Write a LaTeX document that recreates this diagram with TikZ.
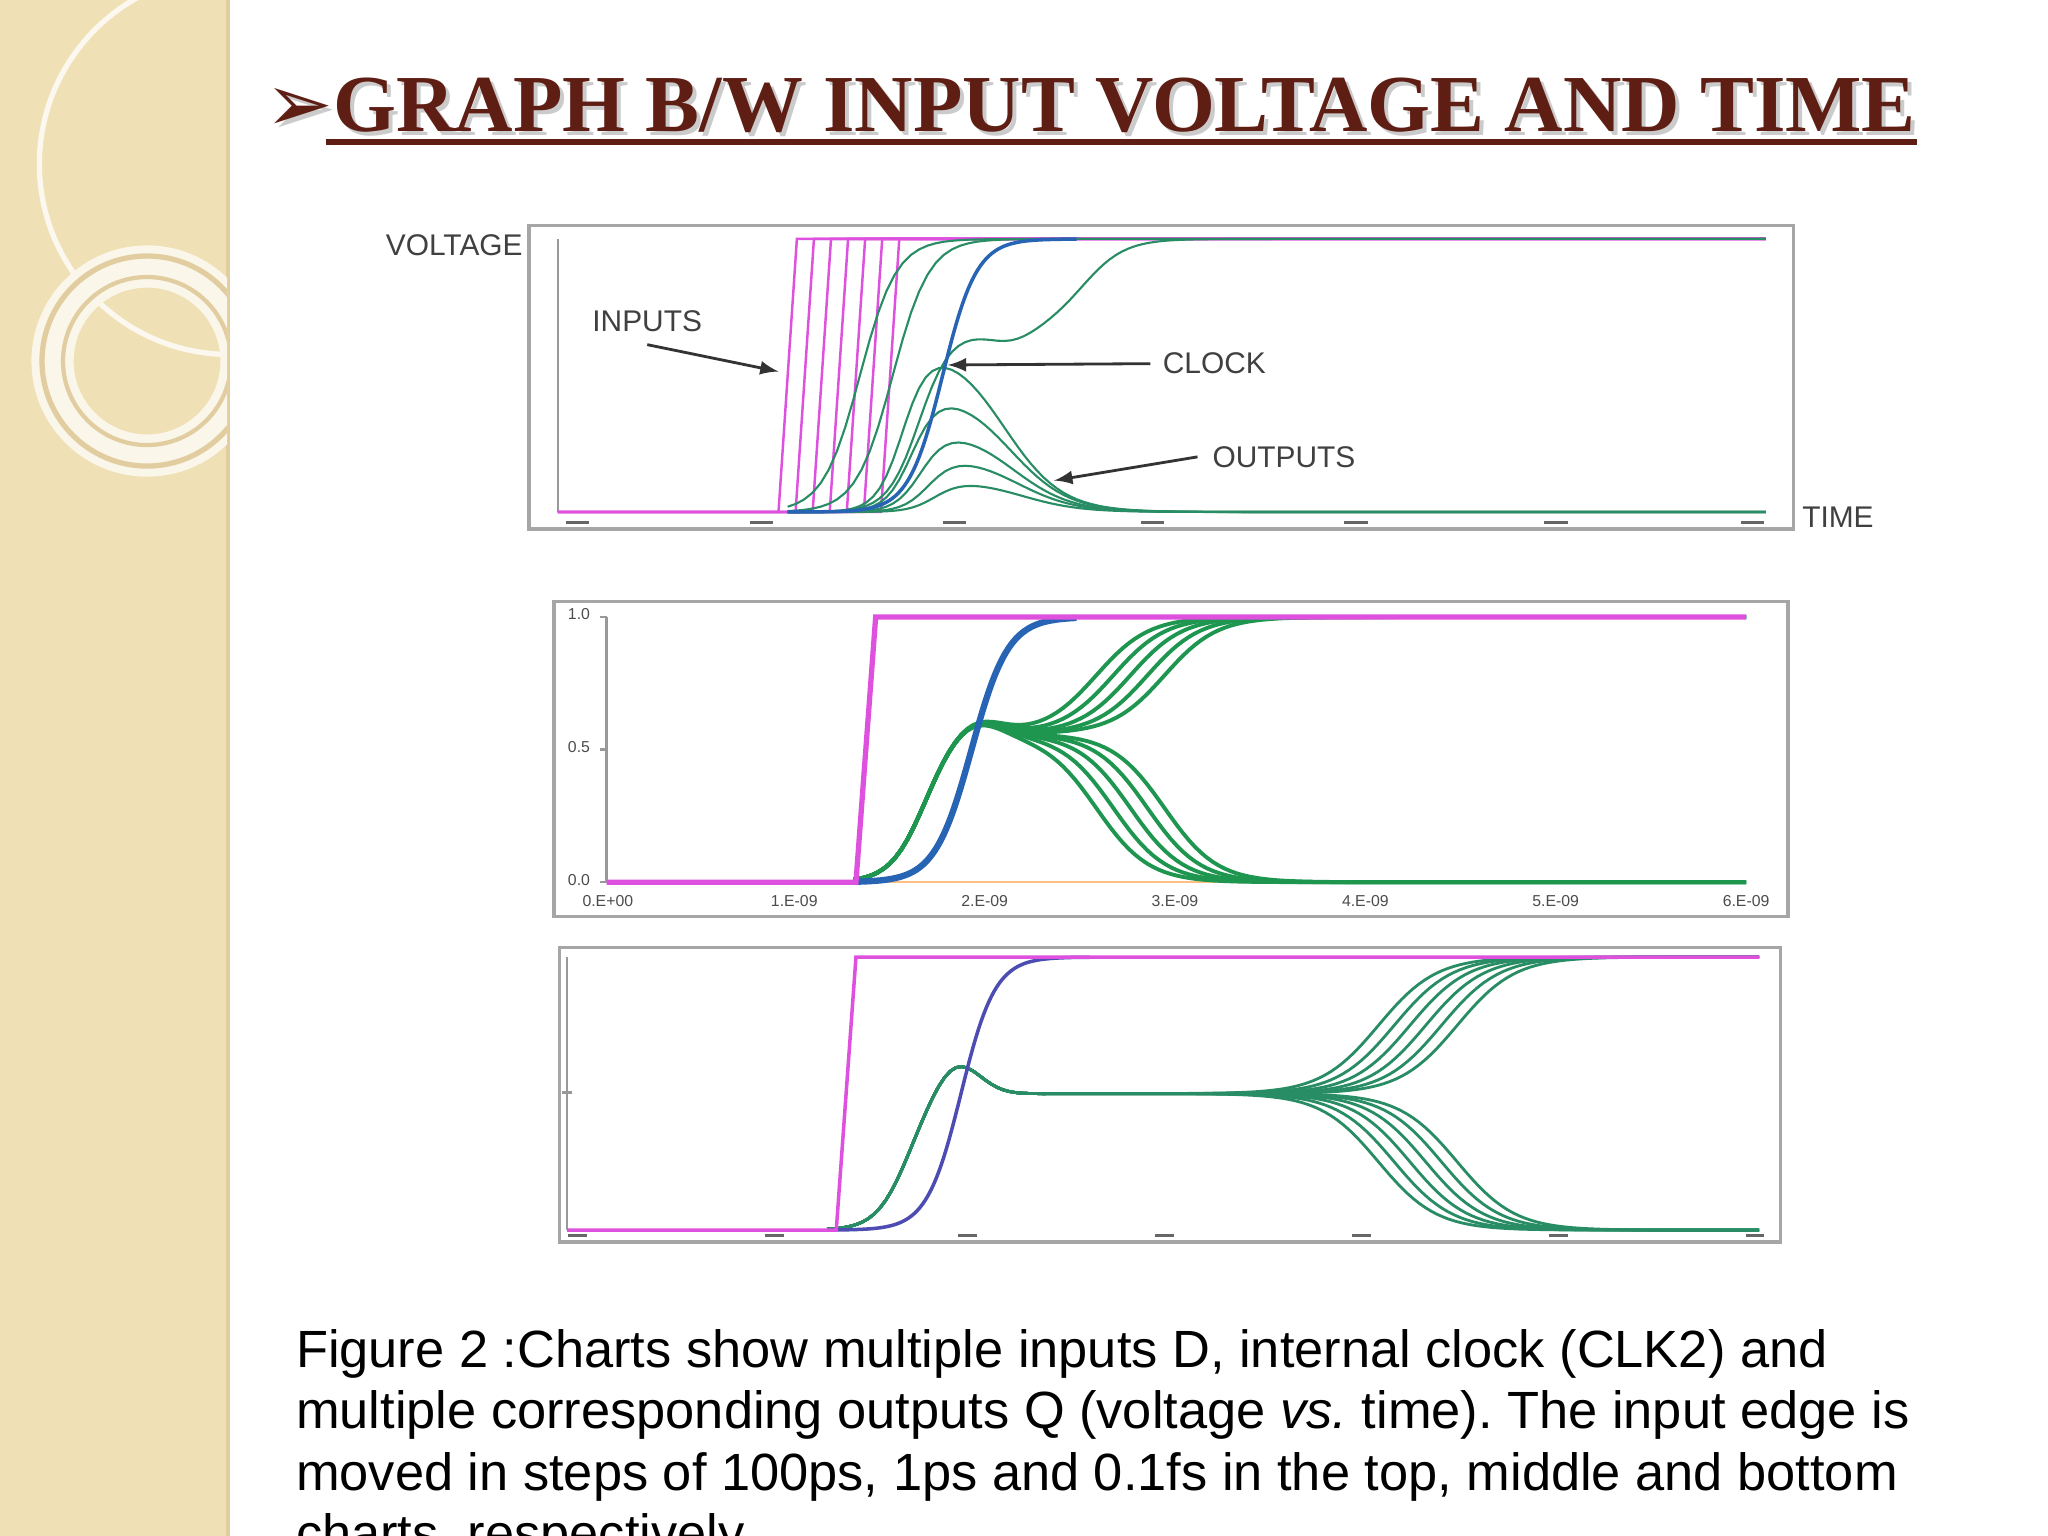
\documentclass[tikz,border=0pt]{standalone}
\usepackage{fontspec}
\setmainfont{Liberation Serif}
\setsansfont{Liberation Sans}
\newfontfamily\dvs{DejaVu Sans}
\definecolor{panel}{RGB}{240,224,182}
\definecolor{panelD}{RGB}{225,205,160}
\definecolor{mag}{RGB}{222,80,222}
\definecolor{gr}{RGB}{30,150,80}
\definecolor{grT}{RGB}{40,140,100}
\definecolor{bl}{RGB}{40,100,180}
\definecolor{tit}{RGB}{95,30,20}
\begin{document}
\frenchspacing
\begin{tikzpicture}[x=0.013128cm,y=-0.013128cm,
  declare function={sg(\t)=1/(1+exp(-max(-9,min(9,\t))));
                    gs(\t)=exp(-min(20,\t*\t));},
  frame/.style={draw=gray!70,line width=0.9pt},
  ax/.style={draw=gray!80,line width=0.7pt},
  inp/.style={draw=mag,line width=0.7pt},
  inpb/.style={draw=mag,line width=1.5pt},
  clk/.style={draw=bl,line width=1pt},
  clkb/.style={draw=bl,line width=1.8pt},
  outp/.style={draw=grT,line width=0.6pt},
  outb/.style={draw=gr,line width=1.1pt},
  lab/.style={font=\sffamily\fontsize{8.5}{8.5}\selectfont,text=black!75},
  tk/.style={font=\sffamily\fontsize{4.5}{4.5}\selectfont,text=black!70},
  arr/.style={draw=black!80,line width=0.8pt,-latex}]
\useasboundingbox (0,0) rectangle (1560,1170);
\clip (0,0) rectangle (1560,1170);
\fill[white] (0,0) rectangle (1560,1170);
% left panel
\fill[panel] (0,0) rectangle (173,1170);
\fill[panelD] (172,0) rectangle (175,1170);
\begin{scope}
\clip (0,0) rectangle (173,1170);
\draw[white,line width=1.5pt,opacity=0.8] (175,125) circle (145);
\draw[white!70!panel,line width=12pt] (112,275) circle (72);
\draw[panelD,line width=1.5pt] (112,275) circle (80);
\draw[panelD,line width=1.2pt] (112,275) circle (64);
\fill[white,opacity=0.3] (0,0) -- (140,0) arc (0:-90:140) -- cycle;
\end{scope}
% title
\node[anchor=west,font=\bfseries\fontsize{23}{23}\selectfont,text=black!40,opacity=0.5,inner sep=0pt] at (205,83) {\dvs ➢\rmfamily GRAPH B/W INPUT VOLTAGE AND TIME};
\node (title) [anchor=west,font=\bfseries\fontsize{23}{23}\selectfont,text=tit,inner sep=0pt] at (202,80) {\dvs ➢\rmfamily GRAPH B/W INPUT VOLTAGE AND TIME};
\draw[tit,line width=1.8pt] (248,108) -- (title.east |- 0,108);
% ===== top chart =====
\draw[frame] (403,172) rectangle (1366,403);
\draw[ax] (425,182) -- (425,390);
\foreach \xx in {440,580,727,878,1033,1185,1335} \fill[black!60] (\xx-9,397) rectangle (\xx+9,399);
\foreach \ii in {0,...,6} {
  \draw[inp] (425,390) -- (593+13*\ii,390) -- (607+13*\ii,182) -- (1345,182);}
\foreach \c/\w in {655/14,680/14} \draw[outp] plot[domain=600:1345,samples=120] (\x,{390-208*sg((\x-\c)/\w)});
\draw[outp] plot[domain=600:1345,samples=150] (\x,{390-208*(0.66*sg((\x-700)/12)+0.34*sg((\x-825)/16)-0.04*gs((\x-770)/25))});
\foreach \h/\c/\d in {0.62/688/765,0.45/695/770,0.31/702/772,0.21/708/775,0.12/713/778}
  \draw[outp] plot[domain=600:1345,samples=150] (\x,{390-208*\h*sg((\x-\c)/10)*(1-sg((\x-\d)/22))});
\draw[clk] plot[domain=600:820,samples=100] (\x,{390-208*sg((\x-718)/13)});
\node (volt) [lab] at (346,187) {VOLTAGE};
\node (inputs) [lab] at (493,245) {INPUTS};
\node (clock) [lab] at (925,277) {CLOCK};
\node (outputs) [lab] at (978,348) {OUTPUTS};
\node (time) [lab] at (1400,394) {TIME};
\coordinate (ia) at (593,283); \coordinate (ca) at (722,278); \coordinate (oa) at (803,366);
\draw[arr] (inputs.south) -- (ia);
\draw[arr] (clock.west) -- (ca);
\draw[arr] (outputs.west) ++(-2,0) -- (oa);
% ===== middle chart =====
\draw[frame] (422,458) rectangle (1362,698);
\draw[ax] (462,470) -- (462,672);
\foreach \yy/\t in {470/1.0,571/0.5,672/0.0} {\draw[ax] (457,\yy) -- (462,\yy); \node[tk] at (441,\yy-2) {\t};}
\foreach \xx/\t in {463/0.E+00,605/1.E-09,750/2.E-09,895/3.E-09,1040/4.E-09,1185/5.E-09,1330/6.E-09}
  \node[tk] at (\xx,686) {\t};
\draw[draw=orange!50,line width=0.5pt] (650,672) -- (1330,672);
\foreach \c in {835,848,861,874,887} {
  \draw[outb] plot[domain=650:1330,samples=150] (\x,{672-202*(sg((\x-703)/13)*(0.56+0.06*gs((\x-742)/28))+0.44*sg((\x-\c)/20))});
  \draw[outb] plot[domain=650:1330,samples=150] (\x,{672-202*(sg((\x-703)/13)*(0.56+0.06*gs((\x-742)/28))-0.56*sg((\x-\c)/20))});}
\draw[clkb] plot[domain=650:820,samples=100] (\x,{672-202*sg((\x-740)/14)});
\draw[inpb] (462,672) -- (652,672) -- (667,470) -- (1330,470);
% ===== bottom chart =====
\draw[frame] (426,722) rectangle (1356,946);
\draw[ax] (432,729) -- (432,937);
\draw[ax] (428,832) -- (436,832);
\foreach \xx in {440,590,737,887,1037,1187,1337} \fill[black!60] (\xx-7,940) rectangle (\xx+7,942);
\foreach \c in {1050,1062,1074,1086,1098,1110} {
  \draw[outp,line width=0.8pt] plot[domain=630:1340,samples=160] (\x,{937-208*(sg((\x-690)/12)*(0.5+0.12*gs((\x-728)/25))+0.5*sg((\x-\c)/22))});
  \draw[outp,line width=0.8pt] plot[domain=630:1340,samples=160] (\x,{937-208*(sg((\x-690)/12)*(0.5+0.12*gs((\x-728)/25))-0.5*sg((\x-\c)/22))});}
\draw[clk,draw=blue!40!gray] plot[domain=630:830,samples=100] (\x,{937-208*sg((\x-732)/13)});
\draw[inp,line width=1pt] (432,937) -- (637,937) -- (652,729) -- (1340,729);
% caption
\node (cap) [anchor=north west,align=left,font=\sffamily\fontsize{14.9}{17.5}\selectfont,inner sep=0pt] at (225,1012)
{Figure 2 :Charts show multiple inputs D, internal clock (CLK2) and\\
multiple corresponding outputs Q (voltage \emph{vs.}\ time). The input edge is\\
moved in steps of 100ps, 1ps and 0.1fs in the top, middle and bottom\\
charts, respectively.};
\end{tikzpicture}
\end{document}
